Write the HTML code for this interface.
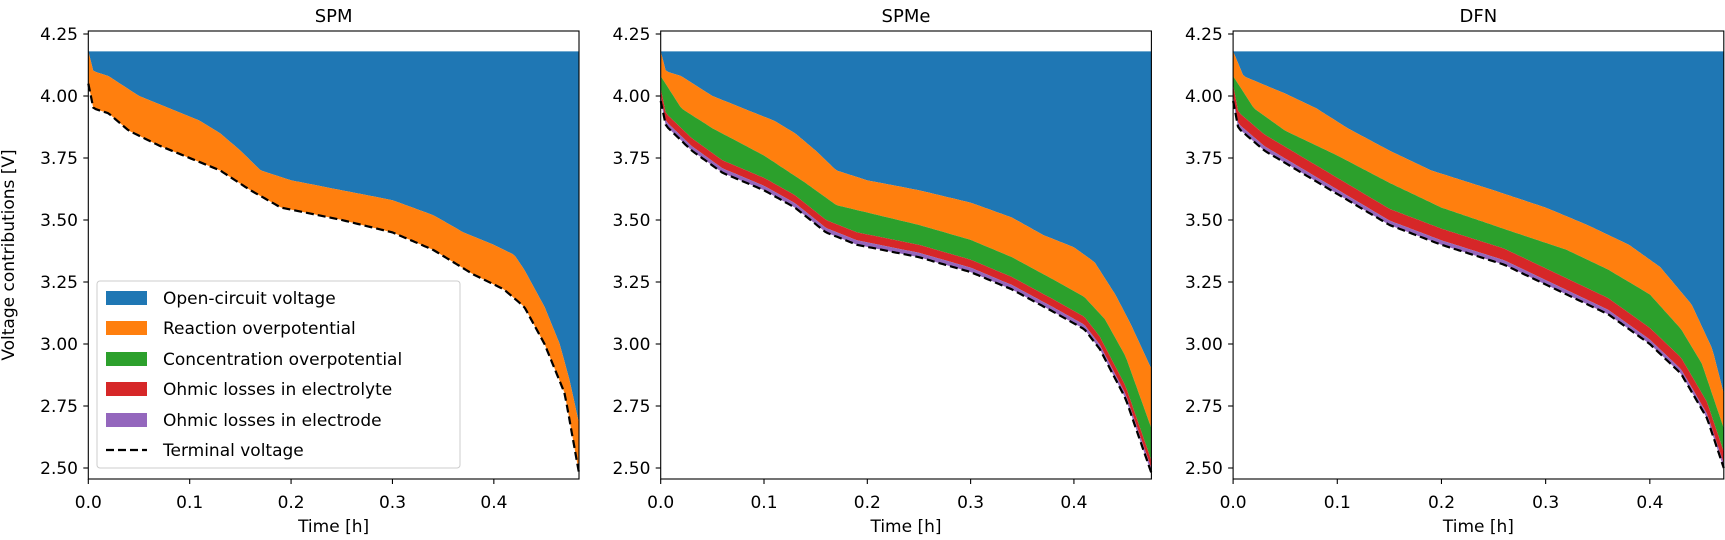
<!DOCTYPE html>
<html><head><meta charset="utf-8"><style>
body{margin:0;background:#fff}
svg{display:block;font-family:"DejaVu Sans","Liberation Sans",sans-serif}
text{font-size:17px;fill:#000}
</style></head><body>
<svg id="s" width="1725" height="540" viewBox="0 0 1725 540" xmlns="http://www.w3.org/2000/svg">
<g id="plots"></g>
<g id="frames" fill="none" stroke="#000" stroke-width="1.1">
<rect x="88.3" y="31" width="490.7" height="448"/>
<rect x="660.7" y="31" width="490.7" height="448"/>
<rect x="1233.1" y="31" width="490.7" height="448"/>
</g>
<g id="ticks" stroke="#000" stroke-width="1.1"></g>
<text x="333.6" y="22" text-anchor="middle" style="font-size:18px">SPM</text>
<text x="906" y="22" text-anchor="middle" style="font-size:18px">SPMe</text>
<text x="1478.4" y="22" text-anchor="middle" style="font-size:18px">DFN</text>
<text transform="translate(14,255) rotate(-90)" text-anchor="middle">Voltage contributions [V]</text>
<text x="333.6" y="532" text-anchor="middle">Time [h]</text>
<text x="906" y="532" text-anchor="middle">Time [h]</text>
<text x="1478.4" y="532" text-anchor="middle">Time [h]</text>
<g text-anchor="end">
<text x="78" y="40">4.25</text><text x="78" y="102">4.00</text><text x="78" y="164">3.75</text><text x="78" y="226">3.50</text><text x="78" y="288">3.25</text><text x="78" y="350">3.00</text><text x="78" y="412">2.75</text><text x="78" y="474">2.50</text>
<text x="650.4" y="40">4.25</text><text x="650.4" y="102">4.00</text><text x="650.4" y="164">3.75</text><text x="650.4" y="226">3.50</text><text x="650.4" y="288">3.25</text><text x="650.4" y="350">3.00</text><text x="650.4" y="412">2.75</text><text x="650.4" y="474">2.50</text>
<text x="1222.8" y="40">4.25</text><text x="1222.8" y="102">4.00</text><text x="1222.8" y="164">3.75</text><text x="1222.8" y="226">3.50</text><text x="1222.8" y="288">3.25</text><text x="1222.8" y="350">3.00</text><text x="1222.8" y="412">2.75</text><text x="1222.8" y="474">2.50</text>
</g>
<g text-anchor="middle">
<text x="88.3" y="508">0.0</text><text x="189.7" y="508">0.1</text><text x="291.1" y="508">0.2</text><text x="392.5" y="508">0.3</text><text x="493.9" y="508">0.4</text>
<text x="660.7" y="508">0.0</text><text x="764" y="508">0.1</text><text x="867.3" y="508">0.2</text><text x="970.6" y="508">0.3</text><text x="1073.9" y="508">0.4</text>
<text x="1233.1" y="508">0.0</text><text x="1337.3" y="508">0.1</text><text x="1441.5" y="508">0.2</text><text x="1545.7" y="508">0.3</text><text x="1649.9" y="508">0.4</text>
</g>
<g>
<rect x="97" y="281" width="363" height="187" rx="3" fill="#fff" fill-opacity="0.8" stroke="#ccc" stroke-width="1"/>
<rect x="106" y="291" width="41" height="14" fill="#1f77b4"/>
<rect x="106" y="321" width="41" height="14" fill="#ff7f0e"/>
<rect x="106" y="352" width="41" height="14" fill="#2ca02c"/>
<rect x="106" y="382" width="41" height="14" fill="#d62728"/>
<rect x="106" y="413" width="41" height="14" fill="#9467bd"/>
<line x1="106" y1="450" x2="147" y2="450" stroke="#000" stroke-width="2.2" stroke-dasharray="8,4"/>
<text x="163" y="304">Open-circuit voltage</text>
<text x="163" y="334">Reaction overpotential</text>
<text x="163" y="365">Concentration overpotential</text>
<text x="163" y="395">Ohmic losses in electrolyte</text>
<text x="163" y="426">Ohmic losses in electrode</text>
<text x="163" y="456">Terminal voltage</text>
</g>
</svg>
<script>
const W=490.7;
function Y(v){return 34+(4.25-v)*248;}
function interp(pts,t){for(let i=1;i<pts.length;i++){if(t<=pts[i][0]){const a=pts[i-1],b=pts[i];const f=(t-a[0])/(b[0]-a[0]||1);return a[1]+f*(b[1]-a[1]);}}return pts[pts.length-1][1];}
const panels=[
{L:88.3,T:0.484,
ocv:[[0,4.18],[0.005,4.10],[0.02,4.08],[0.05,4.00],[0.08,3.95],[0.11,3.90],[0.13,3.85],[0.15,3.78],[0.17,3.70],[0.2,3.66],[0.25,3.62],[0.3,3.58],[0.34,3.52],[0.37,3.45],[0.40,3.40],[0.42,3.36],[0.43,3.30],[0.45,3.15],[0.465,3.0],[0.475,2.85],[0.484,2.68]],
term:[[0,4.05],[0.005,3.95],[0.02,3.93],[0.04,3.86],[0.07,3.80],[0.1,3.75],[0.13,3.70],[0.16,3.62],[0.19,3.55],[0.25,3.50],[0.3,3.45],[0.34,3.38],[0.38,3.28],[0.41,3.22],[0.43,3.15],[0.45,3.0],[0.47,2.8],[0.484,2.48]],
green:null},
{L:660.7,T:0.475,
ocv:[[0,4.18],[0.005,4.10],[0.02,4.08],[0.05,4.00],[0.08,3.95],[0.11,3.90],[0.13,3.85],[0.15,3.78],[0.17,3.70],[0.2,3.66],[0.25,3.62],[0.3,3.57],[0.34,3.51],[0.37,3.44],[0.40,3.39],[0.42,3.33],[0.44,3.20],[0.455,3.08],[0.475,2.90]],
term:[[0,3.98],[0.005,3.88],[0.03,3.78],[0.06,3.69],[0.1,3.62],[0.13,3.55],[0.16,3.45],[0.19,3.40],[0.25,3.35],[0.3,3.29],[0.34,3.22],[0.38,3.13],[0.41,3.06],[0.425,2.98],[0.45,2.78],[0.475,2.48]],
green:[[0,4.08],[0.02,3.95],[0.05,3.87],[0.1,3.76],[0.14,3.65],[0.17,3.56],[0.25,3.48],[0.3,3.42],[0.34,3.35],[0.38,3.26],[0.41,3.19],[0.43,3.10],[0.45,2.95],[0.475,2.66]],
red:0.05},
{L:1233.1,T:0.471,
ocv:[[0,4.18],[0.01,4.08],[0.05,4.01],[0.08,3.95],[0.11,3.87],[0.15,3.78],[0.19,3.70],[0.25,3.62],[0.3,3.55],[0.34,3.48],[0.38,3.40],[0.41,3.31],[0.44,3.16],[0.46,2.98],[0.471,2.80]],
term:[[0,3.98],[0.005,3.87],[0.03,3.78],[0.07,3.68],[0.11,3.58],[0.15,3.48],[0.2,3.40],[0.26,3.32],[0.31,3.22],[0.36,3.12],[0.4,3.00],[0.43,2.88],[0.455,2.70],[0.471,2.50]],
green:[[0,4.08],[0.02,3.95],[0.05,3.86],[0.1,3.76],[0.15,3.65],[0.2,3.55],[0.27,3.45],[0.32,3.38],[0.36,3.30],[0.4,3.20],[0.43,3.06],[0.45,2.92],[0.471,2.66]],
red:0.065}
];
const NS="http://www.w3.org/2000/svg";
const g=document.getElementById('plots');
function band(p,fTop,fBot,color){const N=200;let top=[],bot=[];for(let i=0;i<=N;i++){const t=p.T*i/N;const x=p.L+W*i/N;top.push(x.toFixed(1)+','+Y(fTop(t)).toFixed(1));bot.push(x.toFixed(1)+','+Y(fBot(t)).toFixed(1));}
const e=document.createElementNS(NS,'polygon');e.setAttribute('points',top.concat(bot.reverse()).join(' '));e.setAttribute('fill',color);g.appendChild(e);}
panels.forEach(p=>{
const T=t=>interp(p.term,t),O=t=>interp(p.ocv,t);
band(p,()=>4.18,O,'#1f77b4');
if(!p.green){band(p,O,T,'#ff7f0e');}
else{const G=t=>interp(p.green,t);
band(p,O,G,'#ff7f0e');
band(p,G,t=>T(t)+p.red,'#2ca02c');
band(p,t=>T(t)+p.red,t=>T(t)+0.018,'#d62728');
band(p,t=>T(t)+0.018,T,'#9467bd');}
const N=200;let pts=[];for(let i=0;i<=N;i++){const t=p.T*i/N;pts.push((p.L+W*i/N).toFixed(1)+','+Y(T(t)).toFixed(1));}
const l=document.createElementNS(NS,'polyline');l.setAttribute('points',pts.join(' '));l.setAttribute('fill','none');l.setAttribute('stroke','#000');l.setAttribute('stroke-width','2.2');l.setAttribute('stroke-dasharray','8,4');g.appendChild(l);
const tk=document.getElementById('ticks');
for(let k=0;k<8;k++){const y=34+62*k;const e=document.createElementNS(NS,'line');e.setAttribute('x1',p.L-5);e.setAttribute('x2',p.L);e.setAttribute('y1',y);e.setAttribute('y2',y);tk.appendChild(e);}
for(let k=0;k<5;k++){const x=p.L+W*(0.1*k)/p.T;const e=document.createElementNS(NS,'line');e.setAttribute('x1',x);e.setAttribute('x2',x);e.setAttribute('y1',479);e.setAttribute('y2',484);tk.appendChild(e);}
});
</script>
</body></html>
